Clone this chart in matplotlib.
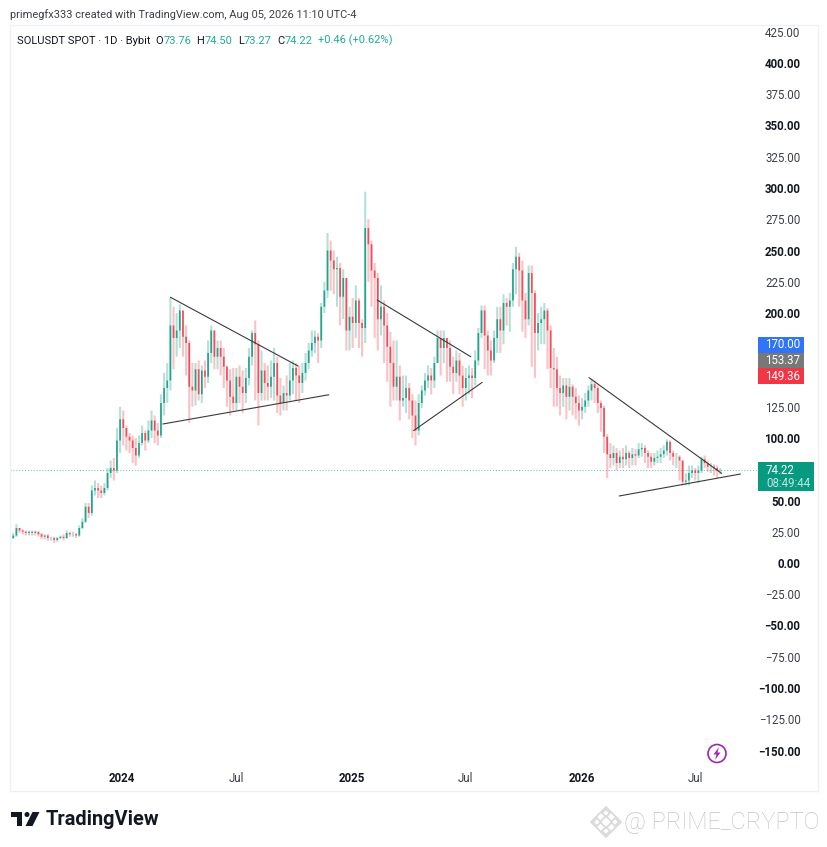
import numpy as np
import matplotlib
matplotlib.use("Agg")
import matplotlib.pyplot as plt
import matplotlib.dates as mdates
from matplotlib.patches import Rectangle, Circle, Polygon
from matplotlib.transforms import Affine2D

W, H = 828, 847
plt.rcParams['font.family'] = ['Roboto', 'DejaVu Sans']

START = np.datetime64('2023-07-07')
STEP_DAYS = 5

closes = [
 20,22,28,26,25,24,25,24,25,23,
 21,22,20,20,18.5,20,21,20,24,23,
 23,22,28,33,45,40,58,60,58,56,
 60,72,76,74,98,115,108,101,98,92,
 86,96,104,98,106,114,106,102,128,140,
 146,190,180,186,202,181,176,141,138,155,
 135,154,149,168,186,165,172,165,157,146,
 133,128,149,141,136,148,165,184,175,136,
 154,144,141,149,160,134,128,136,134,146,
 156,150,144,152,160,170,176,181,178,205,
 218,250,242,235,236,213,228,186,197,192,
 210,192,188,268,255,234,228,195,205,190,
 173,160,141,149,130,132,140,130,118,106,
 128,138,146,150,146,160,180,172,180,172,
 157,152,162,150,140,148,150,148,162,184,
 202,182,170,162,180,195,186,208,205,210,
 235,245,234,210,195,232,216,184,192,195,
 202,186,156,155,140,136,142,133,141,133,
 128,122,125,130,138,143,140,128,124,101,
 87,84,88,80,85,83,88,84,87,86,
 91,92,88,85,81,84,85,87,90,97,
 88,85,85,82,65,66,72,74,72,74,
 83,80,77,77,76,74,74.22]
highs = [
 22,24,31,28,27,26,26,26,26,25,
 24,23,23,21,21,21,22,23,26,25,
 25,24,30,36,48,48,62,66,64,62,
 64,76,82,84,108,125,122,110,104,102,
 100,102,110,106,114,122,118,112,135,152,
 160,212,205,200,207,195,190,178,160,160,
 162,158,162,178,190,184,178,178,172,158,
 155,156,156,158,154,156,172,186,194,178,
 170,160,158,162,172,165,148,142,150,160,
 162,160,158,160,168,176,186,186,184,208,
 225,264,258,250,245,240,235,228,205,212,
 222,212,195,297,275,258,240,232,222,210,
 200,185,178,178,158,150,150,144,135,130,
 135,142,152,158,156,165,186,186,186,180,
 178,165,170,168,158,156,158,156,170,188,
 206,206,186,178,186,205,205,215,212,216,
 240,253,248,242,216,238,238,218,200,205,
 208,204,190,172,165,150,148,148,148,143,
 140,134,132,136,142,147,146,142,130,126,
 103,96,94,92,90,92,94,90,92,91,
 96,96,94,90,88,88,90,92,94,99,
 98,90,88,86,82,72,78,78,76,78,
 85,86,82,80,79,78,76]
lows = [
 17,19,21,24,23,22,22,22,22,21,
 19,19,18,18,16,17,19,18,19,21,
 21,20,21,27,32,36,38,54,52,52,
 54,58,68,66,72,88,94,90,88,80,
 78,84,94,90,96,100,96,94,100,118,
 128,138,155,165,172,165,150,112,125,126,
 130,128,140,144,160,155,155,150,140,125,
 118,122,122,128,120,128,142,158,130,110,
 130,130,130,132,130,120,118,122,122,130,
 135,130,128,136,146,155,165,168,160,172,
 200,212,218,215,205,190,195,170,170,172,
 180,172,165,176,225,205,180,170,182,160,
 145,125,130,130,114,125,120,115,100,94,
 102,124,134,140,135,140,160,150,160,145,
 145,135,145,135,125,130,135,132,142,158,
 180,155,150,150,160,168,168,175,190,185,
 205,215,205,185,180,190,157,148,170,175,
 175,155,140,125,125,118,125,115,122,118,
 115,110,115,120,125,130,128,120,105,88,
 68,76,78,74,76,76,78,76,78,78,
 84,85,80,76,76,78,80,80,84,86,
 82,78,76,66,62,62,62,68,66,64,
 72,76,73,72,70,68,71]

trend_lines = [
 (('2024-03-18', 212.6), ('2024-10-07', 157.6)),
 (('2024-03-06', 111.2), ('2024-11-25', 134.6)),
 (('2025-02-10', 210.4), ('2025-07-09', 165.0)),
 (('2025-04-09', 105.9), ('2025-07-27', 144.5)),
 (('2026-01-13', 148.3), ('2026-08-12', 71.7)),
 (('2026-03-02', 53.6), ('2026-09-11', 71.2)),
]

price_ticks = [425,400,375,350,325,300,275,250,225,200,125,100,50,25,0,-25,-50,-75,-100,-125,-150]
bold_prices = {400,350,300,250,200,100,50,0,-50,-100,-150}
time_ticks = ['2024-01-01','2024-07-01','2025-01-01','2025-07-01','2026-01-01','2026-07-01']
time_labels = ['2024','Jul','2025','Jul','2026','Jul']
last_price = 74.22

UP, DOWN = '#089981', '#F23645'
TEAL_TXT = '#22ab94'
FS = 8.3

fig = plt.figure(figsize=(W/100, H/100), dpi=100, facecolor='white')
L, R, T, B = 10, 818, 25, 791
ax = fig.add_axes([L/W, 1-B/H, (R-L)/W, (B-T)/H])
px = Affine2D().scale(1/W, -1/H).translate(0, 1) + fig.transFigure

c = np.array(closes, float)
o = np.r_[c[0], c[:-1]]
h = np.maximum(np.array(highs, float), np.maximum(o, c))
l = np.minimum(np.array(lows, float), np.minimum(o, c))
d = START + np.arange(len(c)) * np.timedelta64(STEP_DAYS, 'D')
xs = mdates.date2num(d)
up = c >= o
col = np.where(up, UP, DOWN)

w = ax.vlines(xs, l, h, colors=col, linewidth=1.5, alpha=0.3, zorder=2)
b = ax.vlines(xs, np.minimum(o, c), np.maximum(o, c), colors=col, linewidth=1.2, alpha=0.85, zorder=3)
w.set_snap(False)
b.set_snap(False)

ax.axhline(last_price, xmin=0, xmax=(758-L)/(R-L), color=UP, lw=0.8, ls=(0, (1, 1.6)), alpha=0.55, zorder=1)
for (a, e) in trend_lines:
    ax.plot([mdates.date2num(np.datetime64(a[0])), mdates.date2num(np.datetime64(e[0]))],
            [a[1], e[1]], color='#3a3a3a', lw=0.8, zorder=4, solid_capstyle='round')

base = mdates.date2num(np.datetime64('2024-01-01'))
ax.set_xlim(base + (L-122)/0.6285, base + (R-122)/0.6285)
ax.set_ylim((563-B)/1.25, (563-T)/1.25)

ax.yaxis.tick_right()
ax.set_yticks(price_ticks)
ax.set_yticklabels([f"{v:.2f}".replace('-', '\u2212') for v in price_ticks])
ax.tick_params(axis='y', length=0, pad=-12.6, labelsize=FS, labelcolor='#131722')
for t, v in zip(ax.get_yticklabels(), price_ticks):
    t.set_ha('right')
    t.set_fontweight('bold' if v in bold_prices else 'normal')
    t.set_color('#131722' if v in bold_prices else '#3b3f4a')

ax.set_xticks([mdates.date2num(np.datetime64(t)) for t in time_ticks])
ax.set_xticklabels(time_labels)
ax.tick_params(axis='x', length=0, pad=-13.5, labelsize=FS)
for t, s in zip(ax.get_xticklabels(), time_labels):
    t.set_fontweight('bold' if s != 'Jul' else 'normal')
    t.set_color('#131722' if s != 'Jul' else '#3b3f4a')
for s in ax.spines.values():
    s.set_color('#eef0f3')
    s.set_linewidth(1)

# price badges
def badge(x0, y0, x1, y1, color, label, ty):
    fig.add_artist(Rectangle((x0, y0), x1-x0, y1-y0, transform=px, fc=color, ec='none', zorder=5))
    fig.text(783/W, 1-ty/H, label, color='white', fontsize=FS, ha='center', va='center', zorder=6)

badge(758, 337, 804, 353, '#2f75f6', '170.00', 345)
badge(758, 353, 804, 368, '#787878', '153.37', 360.5)
badge(758, 368, 804, 384, '#f23645', '149.36', 376)
fig.add_artist(Rectangle((758, 462), 56, 29, transform=px, fc=UP, ec='none', zorder=5))
fig.text(766/W, 1-470/H, '74.22', color='white', fontsize=FS, va='center', zorder=6)
fig.text(766/W, 1-483/H, '08:49:44', color='#bfe5de', fontsize=FS, va='center', zorder=6)

# header
fig.text(10/W, 1-15/H, 'primegfx333 created with TradingView.com, Aug 05, 2026 11:10 UTC-4',
         fontsize=7.95, color='#3b3f4a', va='center')
fig.text(17/W, 1-40.5/H, 'SOLUSDT SPOT \u00b7 1D \u00b7 Bybit', fontsize=8.0, color='#131722', va='center')
for x, s, col_ in [(155.5,'O','#131722'),(163.5,'73.76',TEAL_TXT),(196.5,'H','#131722'),(204.5,'74.50',TEAL_TXT),
                   (238,'L','#131722'),(244,'73.27',TEAL_TXT),(277.5,'C','#131722'),(285,'74.22',TEAL_TXT),
                   (318,'+0.46 (+0.62%)',TEAL_TXT)]:
    fig.text(x/W, 1-40.5/H, s, fontsize=8.05, color=col_, va='center')

# lightning icon
fig.add_artist(Circle((717, 753.5), 9, transform=px, fc='white', ec='#9c27b0', lw=1.2, zorder=5))
fig.add_artist(Polygon([(719,747),(713.5,754.5),(716.5,754.5),(715,760),(720.5,752.5),(717.5,752.5)],
                       transform=px, fc='#9c27b0', ec='none', zorder=6))

# TradingView logo
fig.add_artist(Polygon([(11.5,812),(22.5,812),(22.5,826),(17,826),(17,817),(11.5,817)], transform=px, fc='#131722', ec='none'))
fig.add_artist(Circle((27,814.5), 2.5, transform=px, fc='#131722', ec='none'))
fig.add_artist(Polygon([(32.5,812),(39.5,812),(32.5,826),(25.5,826)], transform=px, fc='#131722', ec='none'))
fig.text(45.5/W, 1-819.5/H, 'TradingView', fontsize=14.4, color='#131722', va='center', fontweight='semibold')

# watermark
for (cx, cy, r) in [(606,822,15),(606,822,6),(597,822,4),(615,822,4),(606,813,4),(606,831,4)]:
    fig.add_artist(Polygon([(cx,cy-r),(cx+r,cy),(cx,cy+r),(cx-r,cy)], transform=px, fc='none', ec='#d9d9d9', lw=1.2))
fig.text(624/W, 1-822/H, '@ PRIME_CRYPTO', fontsize=17, color='#c4c4c4', va='center', fontweight='light')

fig.savefig('out.png', dpi=100, facecolor='white')
